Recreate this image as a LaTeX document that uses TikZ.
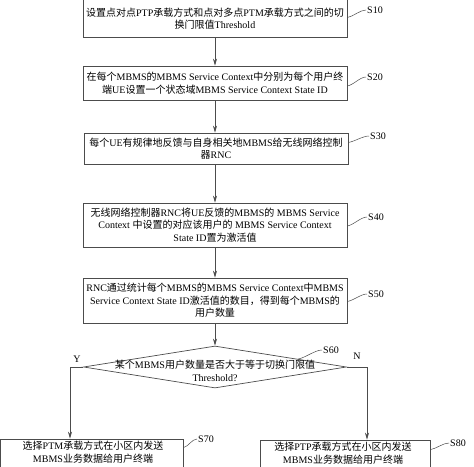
\documentclass[tikz,border=0pt]{standalone}
\usepackage{fontspec}
\setmainfont{Liberation Serif}
\newfontfamily\cjk{Noto Sans CJK SC}
\newcommand\zh[1]{{\cjk #1}}
\usetikzlibrary{arrows.meta,shapes.geometric}
\begin{document}
\begin{tikzpicture}[x=1pt,y=-1pt,
  every node/.style={font=\fontsize{10}{12.5}\selectfont, text=black},
  stepbox/.style={draw=black!70, line width=0.7pt, rectangle, minimum width=264pt, inner sep=0pt, align=center},
  txt/.style={inner sep=0pt, align=center},
  flow/.style={draw=black!70, line width=0.7pt, -{Stealth[length=7pt,width=4pt]}},
  leader/.style={draw=black!70, line width=0.5pt},
  lab/.style={anchor=west, inner sep=1pt}]
\useasboundingbox (0,0) rectangle (474,466);
\node[stepbox, minimum height=38pt] (s10) at (215,18.5)
  {\zh{设置点对点}PTP\zh{承载方式和点对多点}PTM\zh{承载方式之间的切}\\\zh{换门限值}Threshold};
\node[stepbox, minimum height=34pt] (s20) at (215,83)
  {\zh{在每个}MBMS\zh{的}MBMS Service Context\zh{中分别为每个用户终}\\\zh{端}UE\zh{设置一个状态域}MBMS Service Context State ID};
\node[stepbox, minimum height=31pt] (s30) at (216,148.5)
  {\zh{每个}UE\zh{有规律地反馈与自身相关地}MBMS\zh{给无线网络控制}\\\zh{器}RNC};
\node[stepbox, minimum height=44pt] (s40) at (215,225)
  {\zh{无线网络控制器}RNC\zh{将}UE\zh{反馈的}MBMS\zh{的} MBMS Service\\Context \zh{中设置的对应该用户的} MBMS Service Context\\State ID\zh{置为激活值}};
\node[stepbox, minimum height=45pt] (s50) at (215,300.5)
  {RNC\zh{通过统计每个}MBMS\zh{的}MBMS Service Context\zh{中}MBMS\\Service Context State ID\zh{激活值的数目，得到每个}MBMS\zh{的}\\\zh{用户数量}};
\node[diamond, draw=black!70, line width=0.7pt, minimum width=263pt, minimum height=42pt, inner sep=0pt] (s60) at (215,367) {};
\node[txt] (s60t) at (215,371) {\zh{某个}MBMS\zh{用户数量是否大于等于切换门限值}\\Threshold?};
\node[stepbox, minimum width=183pt, minimum height=40pt] (s70) at (91.5,459) {};
\node[txt] (s70t) at (93,452) {\zh{选择}PTM\zh{承载方式在小区内发送}\\MBMS\zh{业务数据给用户终端}};
\node[stepbox, minimum width=170pt, minimum height=40pt] (s80) at (345,460) {};
\node[txt] (s80t) at (343,453) {\zh{选择}PTP\zh{承载方式在小区内发送}\\MBMS\zh{业务数据给用户终端}};

\draw[flow] (s10) -- (s20);
\draw[flow] (s20) -- (s20 |- s30.north);
\draw[flow] (s20 |- s30.south) -- (s40);
\draw[flow] (s40) -- (s50);
\draw[flow] (s50) -- (s60);
\coordinate (yc) at (70,367);
\coordinate (nc) at (367,367);
\draw[flow] (s60.west) -- (yc) -- (yc |- s70.north);
\draw[flow] (s60.east) -- (nc) -- (nc |- s80.north);

\node[lab] (l10) at (366,10) {S10};
\node[lab] (l20) at (366,77) {S20};
\node[lab] (l30) at (369,136) {S30};
\node[lab] (l40) at (367,217) {S40};
\node[lab] (l50) at (367,294) {S50};
\node[lab] (l60) at (322,350) {S60};
\node[lab] (l70) at (197,439) {S70};
\node[lab] (l80) at (449,443) {S80};
\node[inner sep=1pt] (ly) at (77,359) {Y};
\node[inner sep=1pt] (ln) at (357,356) {N};

\draw[leader] ([yshift=1pt]s10.east) .. controls +(6,-1) and +(-6,0) .. (l10.west);
\draw[leader] ([yshift=-3pt]s20.east) .. controls +(6,-1) and +(-6,0) .. (l20.west);
\draw[leader] ([yshift=6pt]s30.east) .. controls +(6,-1) and +(-6,0) .. (l30.west);
\draw[leader] ([yshift=-1pt]s40.east) .. controls +(6,-1) and +(-6,0) .. (l40.west);
\draw[leader] ([yshift=-1pt]s50.east) .. controls +(6,-1) and +(-6,0) .. (l50.west);
\coordinate (d60) at (298,359);
\draw[leader] (d60) .. controls +(7,-1) and +(-7,0) .. (l60.west);
\draw[leader] ([yshift=-9pt]s70.north east) .. controls +(5,-1) and +(-5,0) .. (l70.west);
\draw[leader] ([yshift=-10pt]s80.north east) .. controls +(6,-1) and +(-6,0) .. (l80.west);
\end{tikzpicture}
\end{document}
